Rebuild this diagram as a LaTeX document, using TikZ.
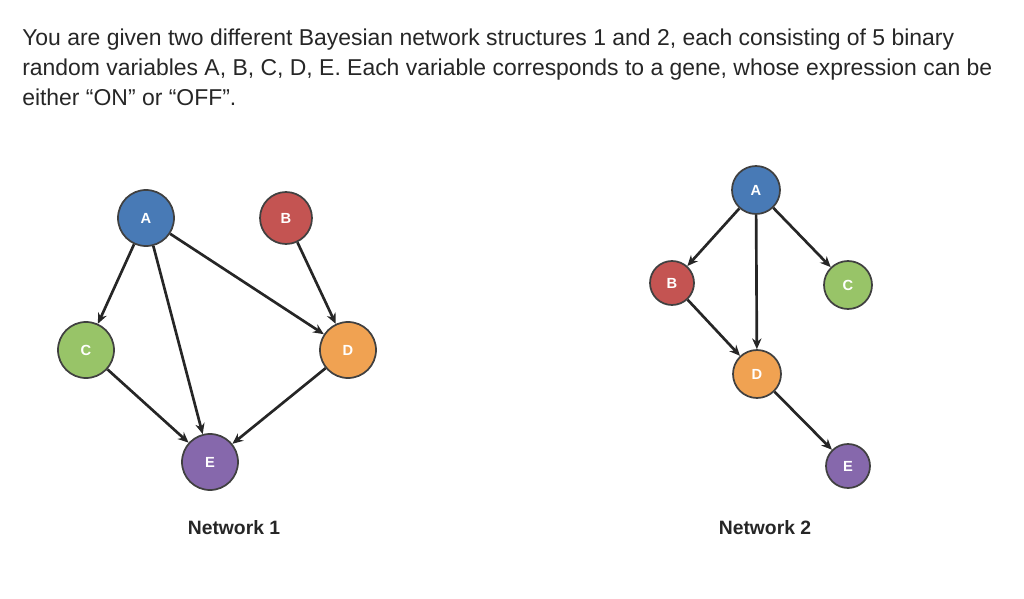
\documentclass[tikz,border=0pt]{standalone}
\usepackage{fontspec}
\setmainfont{Liberation Sans}
\usetikzlibrary{arrows.meta}
\definecolor{cA}{RGB}{72,122,182}
\definecolor{cB}{RGB}{196,84,82}
\definecolor{cC}{RGB}{152,196,104}
\definecolor{cD}{RGB}{240,162,82}
\definecolor{cE}{RGB}{134,104,172}
\begin{document}
\begin{tikzpicture}[x=0.75pt,y=-0.75pt,
  v/.style={circle,draw=black!75,line width=1.3pt,text=white,font=\bfseries\fontsize{11}{11}\selectfont,inner sep=0pt},
  e/.style={-{Stealth[length=8pt,width=7pt]},line width=2pt,black!85}]
\useasboundingbox (0,0) rectangle (1024,599);
\node[anchor=north west,align=left,inner sep=0pt,font=\fontsize{17.2}{22.5}\selectfont,text=black!85] (t) at (22,29)
 {You are given two different Bayesian network structures 1 and 2, each consisting of 5 binary\\
 random variables A, B, C, D, E. Each variable corresponds to a gene, whose expression can be\\
 either “ON” or “OFF”.};
\node[v,fill=cA,minimum size=42pt] (A1) at (146,218) {A};
\node[v,fill=cB,minimum size=39pt] (B1) at (286,218) {B};
\node[v,fill=cC,minimum size=42pt] (C1) at (86,350) {C};
\node[v,fill=cD,minimum size=42pt] (D1) at (348,350) {D};
\node[v,fill=cE,minimum size=42pt] (E1) at (210,462) {E};
\draw[e] (A1)--(C1); \draw[e] (A1)--(E1); \draw[e] (A1)--(D1);
\draw[e] (B1)--(D1); \draw[e] (C1)--(E1); \draw[e] (D1)--(E1);
\node[v,fill=cA,minimum size=36pt] (A2) at (756,190) {A};
\node[v,fill=cB,minimum size=33pt] (B2) at (672,283) {B};
\node[v,fill=cC,minimum size=36pt] (C2) at (848,285) {C};
\node[v,fill=cD,minimum size=36pt] (D2) at (757,374) {D};
\node[v,fill=cE,minimum size=33pt] (E2) at (848,466) {E};
\draw[e] (A2)--(B2); \draw[e] (A2)--(D2); \draw[e] (A2)--(C2);
\draw[e] (B2)--(D2); \draw[e] (D2)--(E2);
\node[font=\bfseries\fontsize{14.5}{15}\selectfont,text=black!85] (n1) at (234,528) {Network 1};
\node[font=\bfseries\fontsize{14.5}{15}\selectfont,text=black!85] (n2) at (765,528) {Network 2};
\end{tikzpicture}
\end{document}
